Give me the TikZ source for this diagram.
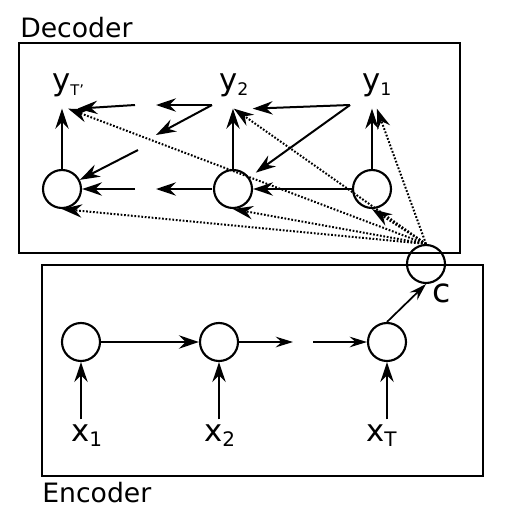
\documentclass[tikz,border=0pt]{standalone}
\usepackage{fontspec}
\setmainfont{DejaVu Sans}
\usetikzlibrary{arrows.meta}

\newcommand{\sublabel}[3]{#1\raisebox{-4pt}{\fontsize{#3}{#3}\selectfont #2}}

\begin{document}
\begin{tikzpicture}
  [
    x = 0.75pt, y = -0.75pt,
    cell/.style = {circle, draw, line width=1.6pt, minimum size=28.5pt, inner sep=0pt},
    frame/.style = {draw, line width=1.4pt},
    title/.style = {font=\fontsize{20}{20}\selectfont, anchor=base west, inner sep=0pt},
    word/.style = {font=\fontsize{23}{23}\selectfont, anchor=base west, inner xsep=3pt, inner ysep=9pt},
    input/.style = {font=\fontsize{23}{23}\selectfont, anchor=base west, inner xsep=0pt, inner ysep=3.5pt},
    link/.style = {-{Stealth[length=15pt, width=10pt, inset=5pt]}, line width=1.5pt},
    weak/.style = {-{Stealth[length=13pt, width=8pt, inset=4.5pt]}, line width=1pt},
    context/.style = {link, dash pattern=on 1.3pt off 1.3pt},
  ]

  \useasboundingbox (0,0) rectangle (512,518);

  % boxes
  \draw[frame] (19,43) rectangle (460,253);
  \draw[frame] (42,265) rectangle (483,476);
  \node[title] (declabel) at (20,37) {Decoder};
  \node[title] (enclabel) at (42,502) {Encoder};

  % encoder
  \node[cell] (enc1) at (81,342) {};
  \node[cell] (enc2) at (219,342) {};
  \node[cell] (encT) at (387,342) {};
  \node[input] (x1) at (71,441) {\sublabel{x}{1}{15}};
  \node[input] (x2) at (204,441) {\sublabel{x}{2}{15}};
  \node[input] (xT) at (366,441) {\sublabel{x}{T}{15}};
  \coordinate (eA) at (293,342);
  \coordinate (eB) at (313,342);

  \node[cell] (c) at (426,264) {};
  \node[title, font=\fontsize{25}{25}\selectfont] (clabel) at (432,302) {c};

  \foreach \i in {1,2,T}{
      \draw[link] (enc\i |- x\i.north) -- (enc\i);
    }
  \draw[link, line width=1.8pt] (enc1) -- (enc2);
  \draw[weak] (enc2) -- (eA);
  \draw[weak] (eB) -- (encT);
  \draw[weak, line width=1.3pt] (encT.north) -- (c.south);

  % decoder
  \node[cell] (dec1) at (372,189) {};
  \node[cell] (dec2) at (233,189) {};
  \node[cell] (decT) at (62,189) {};
  \node[word] (y1) at (358,90) {\sublabel{y}{1}{13}};
  \node[word] (y2) at (215,90) {\sublabel{y}{2}{13}};
  \node[word] (yT) at (48,90) {\sublabel{y}{T'}{11}};

  \coordinate (t1) at (350,105);
  \coordinate (tA) at (212,105);
  \coordinate (tAe) at (156,105);
  \coordinate (tAd) at (156,135);
  \coordinate (tB) at (135,105);
  \coordinate (tBd) at (138,150);
  \coordinate (bA) at (212,189);
  \coordinate (bAe) at (156,189);
  \coordinate (bB) at (135,189);

  \foreach \i in {1,2,T}{
      \draw[link] (dec\i.north) -- (dec\i |- y\i.south);
    }
  \draw[link] (t1) -- (y2.south east);
  \draw[link, shorten >=6pt] (t1) -- (dec2);
  \draw[link] (tA) -- (tAe);
  \draw[link] (tA) -- (tAd);
  \draw[link] (tB) -- ([xshift=7pt]yT.south);
  \draw[link] (tBd) -- (decT);
  \draw[link] (dec1) -- (dec2);
  \draw[link] (bA) -- (bAe);
  \draw[link] (bB) -- (decT);

  % context vector to every step
  \foreach \t in {yT.south, y2.south, y1.south, decT.south, dec2.south, dec1.south}{
      \draw[context] (c.north) -- (\t);
    }

\end{tikzpicture}
\end{document}
